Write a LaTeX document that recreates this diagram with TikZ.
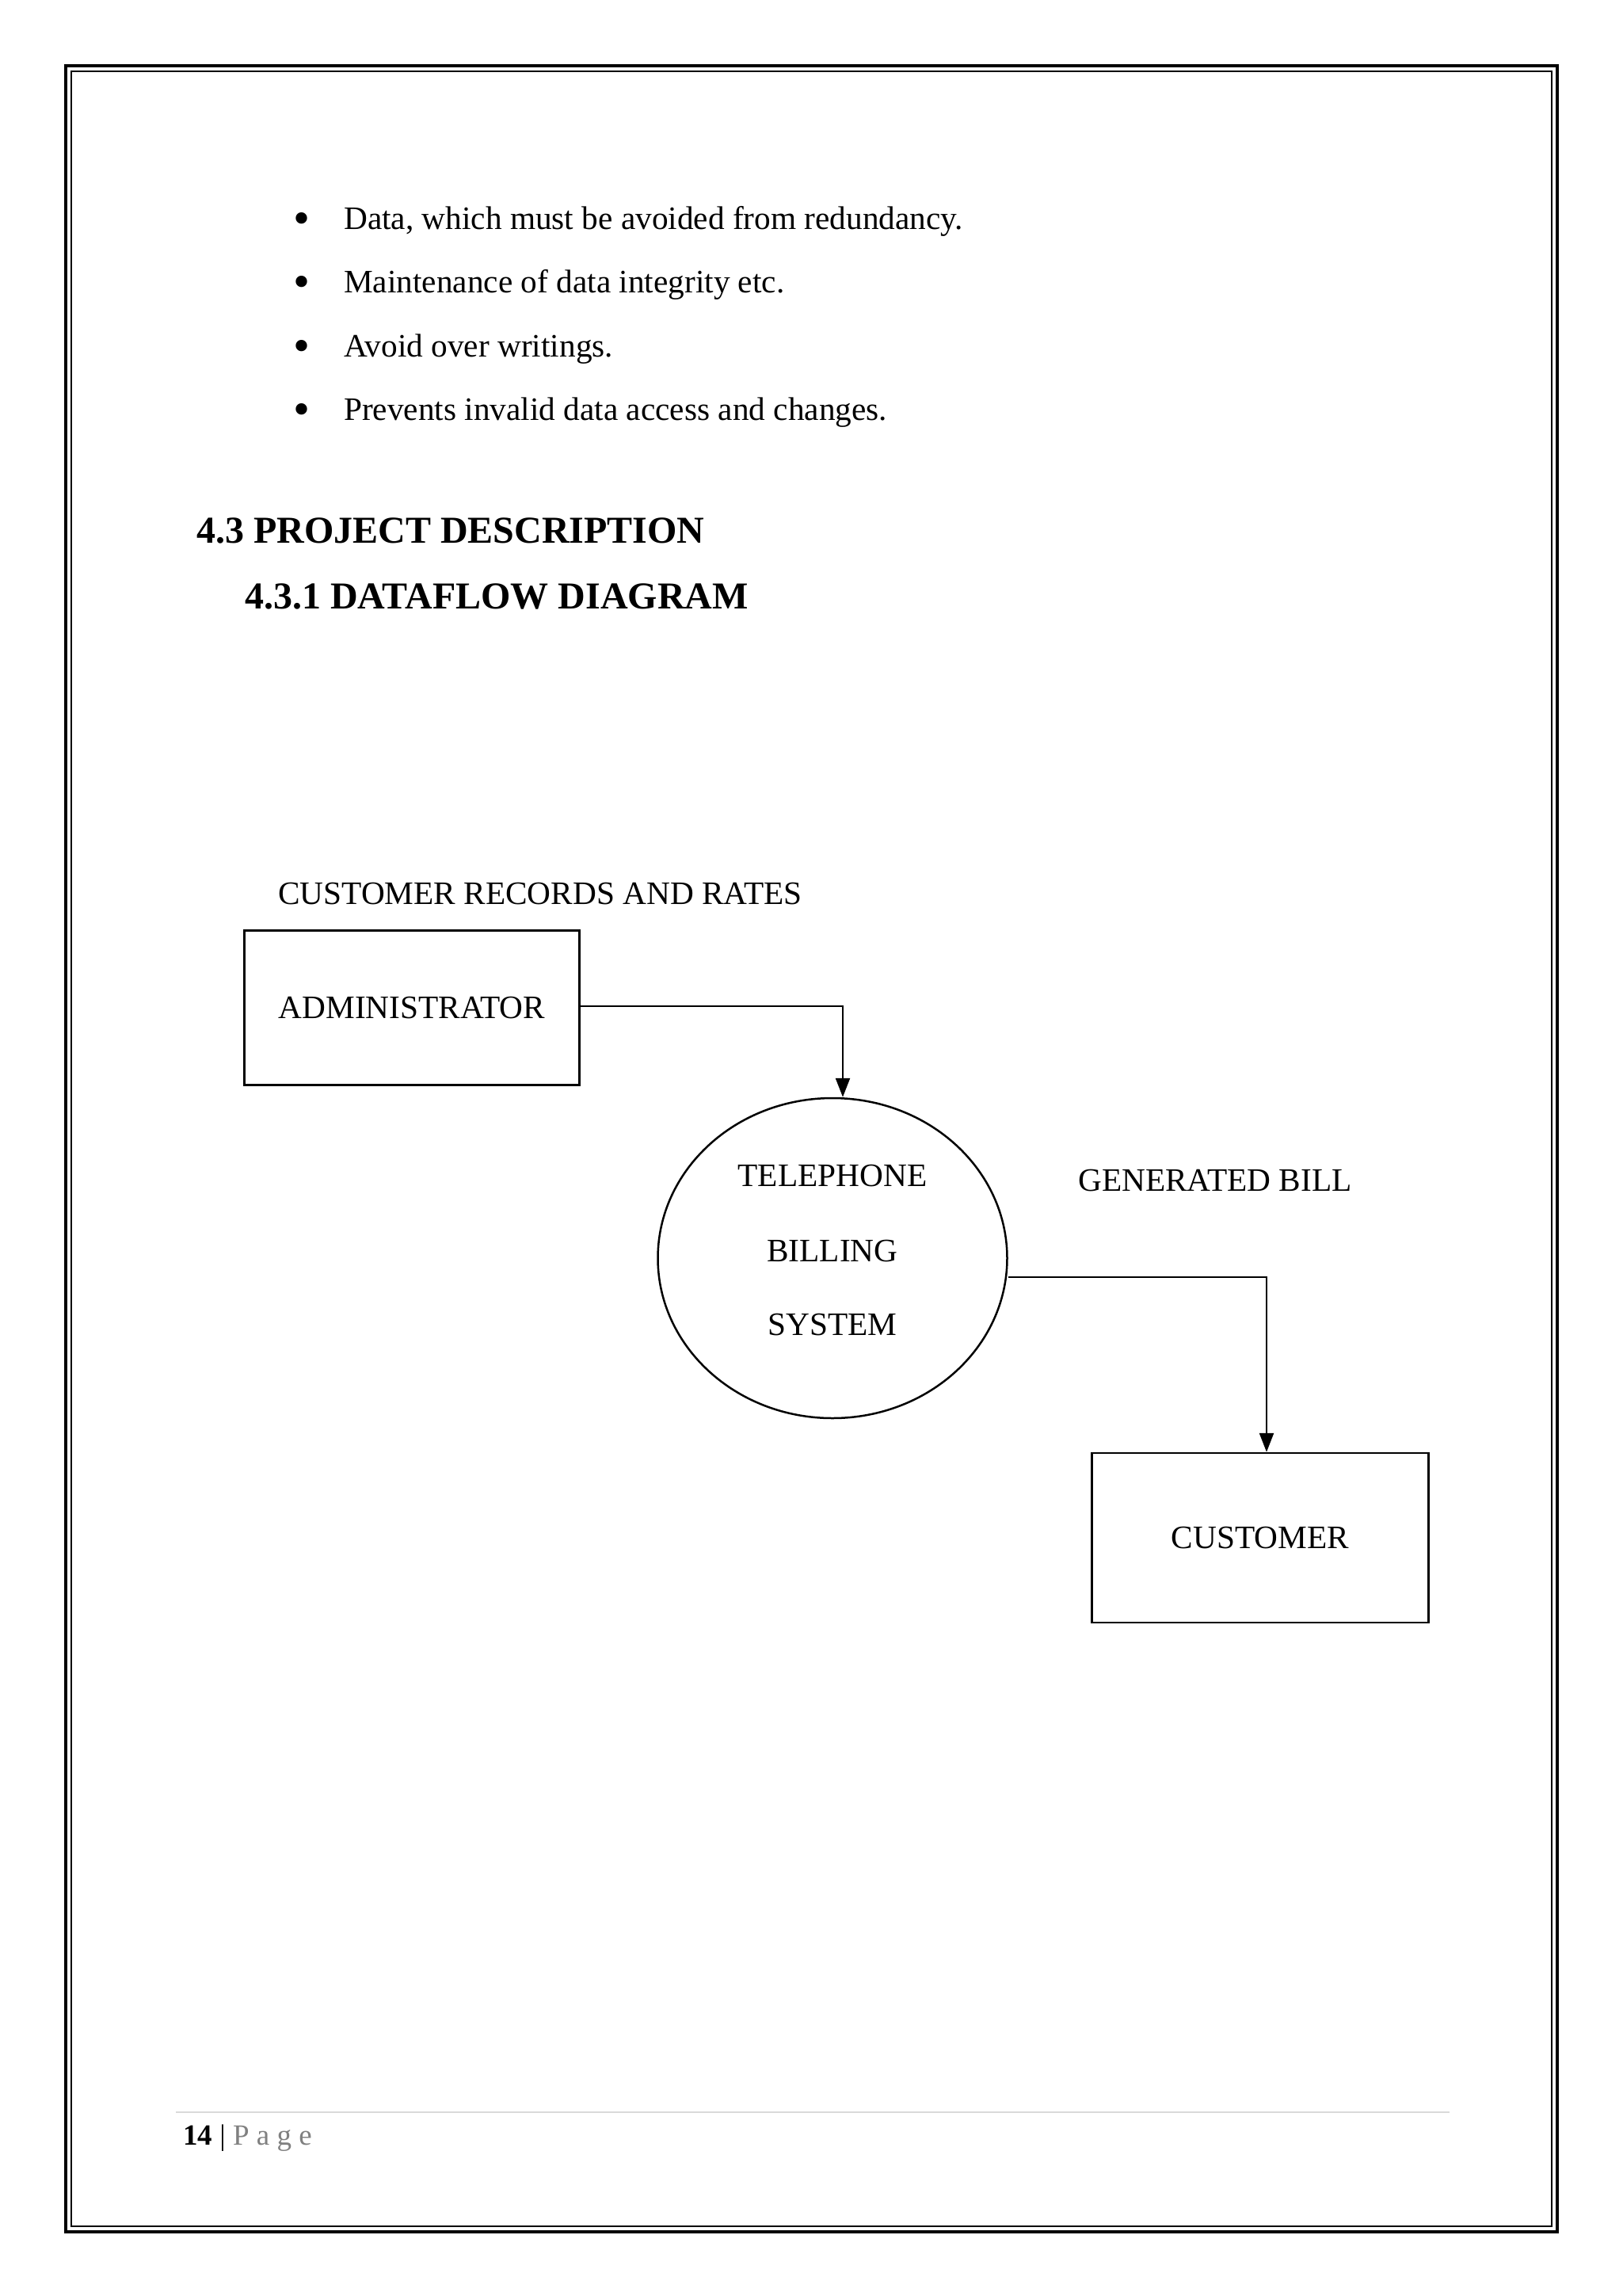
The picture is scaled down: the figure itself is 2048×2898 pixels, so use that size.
\documentclass[tikz,border=0pt]{standalone}
\usepackage{fontspec}
\setmainfont{Liberation Serif}
\usetikzlibrary{arrows.meta,shapes.geometric}
\begin{document}
\begin{tikzpicture}[x=1pt,y=-1pt,
  body/.style={font=\fontsize{41.3}{48}\selectfont, inner sep=0pt},
  head/.style={font=\fontsize{48}{56}\selectfont\bfseries, inner sep=0pt, anchor=west},
  ent/.style={draw, line width=2.5pt, minimum width=423pt, minimum height=195pt, inner sep=0pt, font=\fontsize{41.3}{48}\selectfont},
  flow/.style={line width=2.5pt, -{Triangle[length=24pt,width=18pt]}}]
\useasboundingbox (0,0) rectangle (2048,2898);
% page border
\draw[line width=3.5pt] (83,83) rectangle (1966,2817);
\draw[line width=1.5pt] (90,90) rectangle (1959,2810);
% bullets
\foreach \yy/\tt [count=\i] in {280/{Data, which must be avoided from redundancy.},360/{Maintenance of data integrity etc.},441/{Avoid over writings.},521/{Prevents invalid data access and changes.}}{
  \node[body,anchor=center,font=\fontsize{60}{60}\selectfont] (b\i) at (381,\yy+2) {\textbullet};
  \node[body,anchor=west] (t\i) at (434,\yy) {\strut\tt};
}
\node[head] (h1) at (248,674) {\strut 4.3 PROJECT DESCRIPTION};
\node[head] (h2) at (309,757) {\strut 4.3.1 DATAFLOW DIAGRAM};
% diagram
\node[body,anchor=west] (crr) at (351,1132) {\strut CUSTOMER RECORDS AND RATES};
\node[ent] (admin) at (520,1272) {ADMINISTRATOR};
\node[draw, ellipse, line width=2.5pt, minimum width=441pt, minimum height=404pt, inner sep=0pt] (tbs) at (1051,1588) {};
\node[body] (l1) at (1051,1488) {\strut TELEPHONE};
\node[body] (l2) at (1051,1583) {\strut BILLING};
\node[body] (l3) at (1051,1676) {\strut SYSTEM};
\node[body,anchor=west] (gb) at (1361,1494) {\strut GENERATED BILL};
\node[ent, minimum width=425pt, minimum height=214pt] (cust) at (1591,1941) {CUSTOMER};
\coordinate (c1) at (1064,1270);
\coordinate (c2) at (1599,1612);
\draw[flow] (admin.east |- c1) -- (c1) -- (c1 |- tbs.north);
\draw[flow] (tbs.east |- c2) -- (c2) -- (c2 |- cust.north);
% footer
\draw[line width=2pt, gray!30] (222,2666) -- (1830,2666);
\node[inner sep=0pt, anchor=west, font=\fontsize{37}{44}\selectfont] (pg) at (231,2699) {\strut\textbf{14} | \textcolor{gray}{P a g e}};
\end{tikzpicture}
\end{document}
